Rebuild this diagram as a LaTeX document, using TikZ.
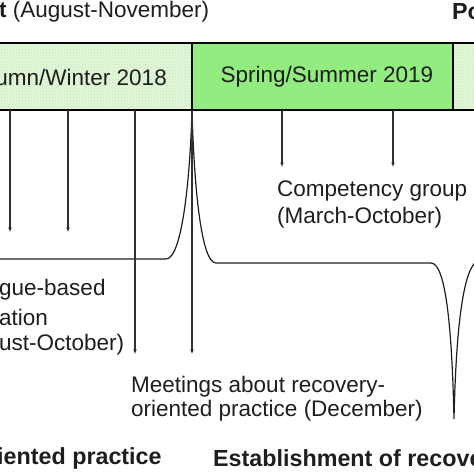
\documentclass[tikz,border=0pt]{standalone}
\usepackage{fontspec}
\setmainfont{Liberation Sans}
\usetikzlibrary{arrows.meta,patterns}
\definecolor{palegreen}{HTML}{E4F7DA}
\definecolor{dotgreen}{HTML}{B9E6A8}
\definecolor{midgreen}{HTML}{92EC80}
\definecolor{ink}{HTML}{1E1E1E}
\definecolor{arrowgrey}{HTML}{303030}
\tikzset{
  lbl/.style={font=\fontsize{22.5}{27}\selectfont, text=ink, inner sep=0pt, anchor=west},
  blbl/.style={lbl, font=\fontsize{23.3}{27}\selectfont\bfseries},
  tick/.style={draw=arrowgrey, line width=1.3pt, -{Latex[length=4.5pt,width=4pt]}},
  border/.style={draw=black, line width=2pt},
  curveline/.style={draw=ink, line width=1.2pt}
}
\begin{document}
\begin{tikzpicture}[x=1pt,y=-1pt]
\useasboundingbox (0,0) rectangle (474,474);
\clip (0,0) rectangle (474,474);
% band
\fill[palegreen] (-5,43) rectangle (192,110);
\fill[pattern=crosshatch dots, pattern color=dotgreen] (-5,43) rectangle (192,110);
\fill[midgreen] (192,43) rectangle (453,110);
\fill[palegreen] (453,43) rectangle (480,110);
\fill[pattern=crosshatch dots, pattern color=dotgreen] (453,43) rectangle (480,110);
\draw[border] (-5,43) -- (480,43);
\draw[border] (-5,110) -- (480,110);
\draw[border] (453,43) -- (453,110);
% coordinates
\coordinate (d1top) at (192,43);
\coordinate (d1end) at (192,354);
\coordinate (a1s) at (10,110);   \coordinate (a1e) at (10,232);
\coordinate (a2s) at (68,110);   \coordinate (a2e) at (68,232);
\coordinate (a3s) at (135,110);  \coordinate (a3e) at (135,354);
\coordinate (a4s) at (282,110);  \coordinate (a4e) at (282,167);
\coordinate (a5s) at (393,110);  \coordinate (a5e) at (393,167);
% curve
\coordinate (c0) at (-5,259);
\coordinate (c1) at (166,259);
\coordinate (cusp1) at (192,110);
\coordinate (c2) at (216,263);
\coordinate (c3) at (431,263);
\coordinate (cusp2) at (454,419);
\coordinate (c4) at (480,260);
\draw[curveline] (c0) -- (c1) .. controls (182,259) and (190,180) .. (cusp1)
  .. controls (194,185) and (201,263) .. (c2) -- (c3)
  .. controls (446,263) and (452,330) .. (cusp2)
  .. controls (456,330) and (463,262) .. (c4);
% arrows
\draw[tick] (a1s) -- (a1e);
\draw[tick] (a2s) -- (a2e);
\draw[tick] (a3s) -- (a3e);
\draw[tick] (a4s) -- (a4e);
\draw[tick] (a5s) -- (a5e);
\draw[border] (d1top) -- (cusp1);
\draw[tick] (cusp1) -- (d1end);
% texts
\node[lbl] (top1) at (-1,12) {\textbf{t} (August-November)};
\node[blbl] (top2) at (452,12) {Po};
\node[lbl, anchor=east] (seas1) at (167,77) {umn/Winter 2018};
\node[lbl, anchor=center] (seas2) at (327,77) {Spring/Summer 2019};
\node[lbl] (comp1) at (277,191) {Competency group};
\node[lbl] (comp2) at (277,218) {(March-October)};
\node[lbl] (dia1) at (-1,290) {gue-based};
\node[lbl] (dia2) at (-1,317) {ation};
\node[lbl] (dia3) at (-1,345) {ust-October)};
\node[lbl] (meet1) at (131,387) {Meetings about recovery-};
\node[lbl] (meet2) at (131,411) {oriented practice (December)};
\node[blbl] (bot1) at (-3,458) {iented practice};
\node[blbl] (bot2) at (213,458) {Establishment of recove};
\end{tikzpicture}
\end{document}
